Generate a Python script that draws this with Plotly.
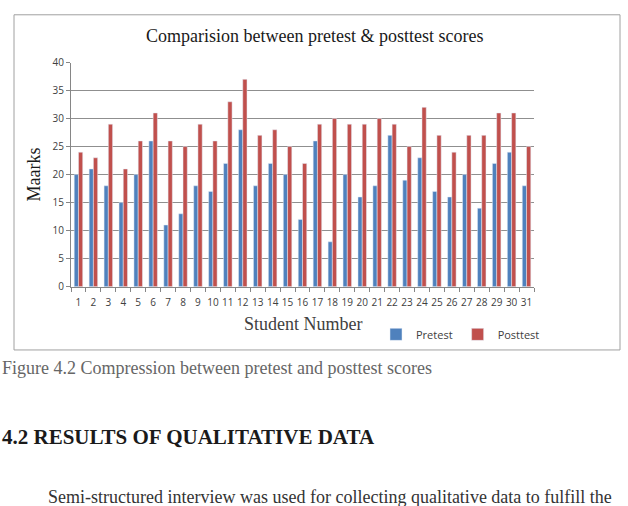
import plotly.graph_objects as go

students = [str(i) for i in range(1, 32)]
pretest = [20, 21, 18, 15, 20, 26, 11, 13, 18, 17, 22, 28, 18, 22, 20, 12,
           26, 8, 20, 16, 18, 27, 19, 23, 17, 16, 20, 14, 22, 24, 18]
posttest = [24, 23, 29, 21, 26, 31, 26, 25, 29, 26, 33, 37, 27, 28, 25, 22,
            29, 30, 29, 29, 30, 29, 25, 32, 27, 24, 27, 27, 31, 31, 25]
y_ticks = [0, 5, 10, 15, 20, 25, 30, 35, 40]

W, H = 628, 506
def px(x):
    return x / W
def py(y):
    return 1 - y / H

fig = go.Figure()
fig.add_trace(go.Bar(x=students, y=pretest, name="Pretest", marker_color="#4F81BD"))
fig.add_trace(go.Bar(x=students, y=posttest, name="Posttest", marker_color="#C0504D"))

fig.update_layout(
    width=W, height=H,
    margin=dict(l=0, r=0, t=0, b=0),
    paper_bgcolor="white", plot_bgcolor="white",
    barmode="group", bargap=0.43, bargroupgap=0,
    showlegend=True,
    legend=dict(orientation="h", x=px(376), y=py(336), xanchor="left", yanchor="middle",
                font=dict(family="Open Sans", size=11, color="#404040"),
                itemwidth=30, bgcolor="rgba(0,0,0,0)"),
    xaxis=dict(domain=[px(71), px(534)], type="category", tickson="boundaries",
               ticks="outside", ticklen=4, tickcolor="#868686", tickangle=0,
               ticklabelstandoff=6,
               showline=True, linecolor="#868686", showgrid=False,
               tickfont=dict(family="Open Sans", size=10, color="#404040")),
    yaxis=dict(domain=[py(287), py(57)], range=[0, 40], tickvals=y_ticks,
               ticks="outside", ticklen=4, tickcolor="#868686",
               showline=True, linecolor="#868686",
               showgrid=True, gridcolor="#8F8F8F", gridwidth=1, zeroline=False,
               tickfont=dict(family="Open Sans", size=10, color="#404040")),
)

# chart border
fig.add_shape(type="rect", xref="paper", yref="paper",
              x0=px(14), x1=px(620), y0=py(352), y1=py(8),
              line=dict(color="#A0A0A0", width=1))

ann = [
    dict(text="Comparision between pretest &amp; posttest scores", x=px(314), y=py(30),
         font=dict(family="Liberation Serif", size=18, color="#1a1a1a")),
    dict(text="Maarks", x=px(34), y=py(172), textangle=-90,
         font=dict(family="Liberation Serif", size=18, color="#1a1a1a")),
    dict(text="Student Number", x=px(303), y=py(325),
         font=dict(family="Liberation Serif", size=18, color="#404040")),
]
for a in ann:
    fig.add_annotation(xref="paper", yref="paper", showarrow=False,
                       xanchor="center", yanchor="middle", **a)

fig.add_annotation(xref="paper", yref="paper", showarrow=False, xanchor="left", yanchor="middle",
                   x=0, y=py(371),
                   text="Figure 4.2 Compression between pretest and posttest scores",
                   font=dict(family="Liberation Serif", size=18, color="#666666"))
fig.add_annotation(xref="paper", yref="paper", showarrow=False, xanchor="left", yanchor="middle",
                   x=0, y=py(441),
                   text="<b>4.2 RESULTS OF QUALITATIVE DATA</b>",
                   font=dict(family="Liberation Serif", size=21, color="#1a1a1a"))
fig.add_annotation(xref="paper", yref="paper", showarrow=False, xanchor="left", yanchor="middle",
                   x=px(46), y=py(503),
                   text="Semi-structured interview was used for collecting qualitative data to fulfill the",
                   font=dict(family="Liberation Serif", size=18, color="#333333"))

fig.write_html("out.html")
